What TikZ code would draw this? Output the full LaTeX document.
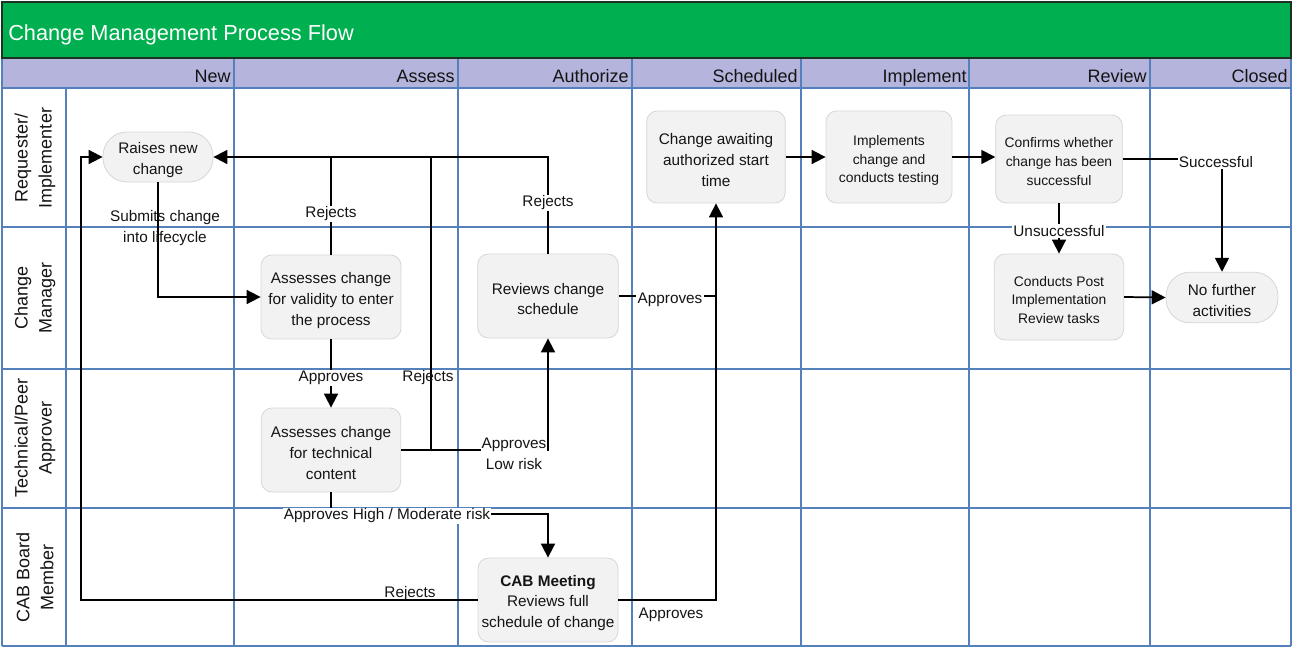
\documentclass[tikz,border=0pt]{standalone}
\usepackage{fontspec}
\setmainfont{Liberation Sans}
\usetikzlibrary{arrows.meta}
\definecolor{gridblue}{RGB}{84,128,188}
\definecolor{hdrfill}{RGB}{180,180,220}
\definecolor{titlegreen}{RGB}{0,176,80}
\definecolor{titleedge}{RGB}{30,50,35}
\definecolor{boxfill}{RGB}{242,242,242}
\definecolor{boxline}{RGB}{214,214,214}
\definecolor{ink}{RGB}{20,20,20}
\newcommand\fsNode{\fontsize{11.5}{15.6}\selectfont}
\newcommand\fsSmall{\fontsize{10.4}{14}\selectfont}
\newcommand\fsHdr{\fontsize{13.5}{18}\selectfont}
\newcommand\fsTitle{\fontsize{16.3}{20}\selectfont}
\begin{document}
\begin{tikzpicture}[x=0.75pt,y=-0.75pt,
  gridline/.style={draw=gridblue,line width=0.9pt},
  proc/.style={draw=boxline,fill=boxfill,rounded corners=8pt,inner sep=0pt,line width=0.6pt},
  stadium/.style={proc,rounded corners=18pt},
  btxt/.style={align=center,font=\fsNode,text=ink,inner sep=0pt},
  stxt/.style={btxt,font=\fsSmall},
  flow/.style={draw=black,line width=1.3pt,-{Triangle[length=10.5pt,width=10.5pt]}},
  link/.style={draw=black,line width=1.3pt},
  lbl/.style={font=\fsNode,text=ink,align=center,inner sep=1pt},
  wlbl/.style={lbl,fill=white},
  colhdr/.style={font=\fsHdr,text=ink,anchor=base east,inner sep=0pt},
  lanehdr/.style={font=\fsHdr,text=ink,align=center,rotate=90,inner sep=0pt}
]
\useasboundingbox (0,0) rectangle (1293,650);
% title bar
\fill[titlegreen] (2,2) rectangle (1291,58);
\draw[titleedge,line width=1.3pt] (2,2) rectangle (1291,58);
\node[font=\fsTitle,text=white,anchor=base west,inner sep=0pt] (title) at (8,40) {Change Management Process Flow};
% header row
\fill[hdrfill] (2,59) rectangle (1291,88);
% grid
\foreach \yy in {88,227,369,508,646} \draw[gridline] (2,\yy) -- (1291,\yy);
\foreach \xx in {2,234,458,632,801,969,1150,1291} \draw[gridline] (\xx,59) -- (\xx,646);
\draw[gridline] (66,88) -- (66,646);
% column headers
\node[colhdr] (hNew) at (231,82) {New};
\node[colhdr] (hAssess) at (455,82) {Assess};
\node[colhdr] (hAuth) at (629,82) {Authorize};
\node[colhdr] (hSched) at (798,82) {Scheduled};
\node[colhdr] (hImpl) at (967,82) {Implement};
\node[colhdr] (hRev) at (1147,82) {Review};
\node[colhdr] (hClosed) at (1288,82) {Closed};
% lane headers
\node[lanehdr] (l1) at (35,158) {Requester/\\Implementer};
\node[lanehdr] (l2) at (35,298) {Change\\Manager};
\node[lanehdr] (l3) at (35,438) {Technical/Peer\\Approver};
\node[lanehdr] (l4) at (35,577) {CAB Board\\Member};
% process boxes
\node[stadium,minimum width=82.5pt,minimum height=37.5pt] (raise) at (158,157) {};
\node[proc,minimum width=105pt,minimum height=63pt] (valid) at (331,297) {};
\node[proc,minimum width=105.5pt,minimum height=63pt] (sched) at (548,296) {};
\node[proc,minimum width=104pt,minimum height=69pt] (await) at (716,157) {};
\node[proc,minimum width=94.5pt,minimum height=69pt] (impl) at (889,157) {};
\node[proc,minimum width=95pt,minimum height=66pt] (conf) at (1059,159) {};
\node[proc,minimum width=97pt,minimum height=64.5pt] (pir) at (1059,297) {};
\node[stadium,minimum width=84pt,minimum height=38pt] (nof) at (1222,297.5) {};
\node[proc,minimum width=104.5pt,minimum height=63pt] (tech) at (331,450) {};
\node[proc,minimum width=105pt,minimum height=63pt] (cab) at (548,600) {};
% box texts
\node[btxt] (raiseT) at ([yshift=-2.25pt]raise.center) {Raises new\\change};
\node[btxt] (validT) at ([yshift=-2.5pt]valid.center) {Assesses change\\for validity to enter\\the process};
\node[btxt] (schedT) at ([yshift=-2.25pt]sched.center) {Reviews change\\schedule};
\node[btxt] (awaitT) at ([yshift=-2.25pt]await.center) {Change awaiting\\authorized start\\time};
\node[stxt] (implT) at ([yshift=-2.7pt]impl.center) {Implements\\change and\\conducts testing};
\node[stxt] (confT) at ([yshift=-1.8pt]conf.center) {Confirms whether\\change has been\\successful};
\node[stxt] (pirT) at ([yshift=-2.25pt]pir.center) {Conducts Post\\Implementation\\Review tasks};
\node[btxt] (nofT) at ([yshift=-2.25pt]nof.center) {No further\\activities};
\node[btxt] (techT) at ([yshift=-2.25pt]tech.center) {Assesses change\\for technical\\content};
\node[btxt] (cabT) at ([yshift=-2.25pt]cab.center) {\textbf{CAB Meeting}\\Reviews full\\schedule of change};
% helper coordinates
\coordinate (techj) at (431,450);
\coordinate (topj) at (431,157);
\coordinate (hmj) at (331,514);
\coordinate (leftj) at (81,600);
% connectors
\draw[flow] (raise.south) |- (valid.west);
\node[lbl] (lSubmit) at (165,228) {Submits change\\into lifecycle};
\draw[link] (valid.north) -- (valid.north |- raise.east);
\draw[flow] (sched.north) |- (raise.east);
\draw[link] (techj) -- (topj);
\node[wlbl] (lRej1) at (331,214) {Rejects};
\node[wlbl] (lRej2) at (548,203) {Rejects};
\draw[flow] (valid.south) -- (tech.north);
\node[wlbl] (lApp1) at (331,378) {Approves};
\node[lbl] (lRej3) at (428,378) {Rejects};
\draw[flow] (tech.east) -| (sched.south);
\node[wlbl,inner sep=0.5pt] (lLow) at (514,454) {Approves\\Low risk};
\draw[flow] (tech.south) -- (hmj) -| (cab.north);
\node[wlbl] (lHigh) at (387,516) {Approves High / Moderate risk};
\draw[flow] (cab.west) -- (leftj) |- (raise.west);
\node[lbl] (lRej4) at (410,594) {Rejects};
\draw[flow] (cab.east) -| (await.south);
\node[lbl] (lApp2) at (671,615) {Approves};
\draw[link] (sched.east) -- (await.south |- sched.east);
\node[wlbl] (lApp3) at (670,300) {Approves};
\draw[flow] (await.east) -- (impl.west |- await.east);
\draw[flow] (impl.east) -- (conf.west |- impl.east);
\draw[flow] (conf.east) -| (nof.north);
\node[wlbl] (lSucc) at (1216,162) {Successful};
\draw[flow] (conf.south) -- (pir.north);
\node[wlbl] (lUns) at (1059,231) {Unsuccessful};
\draw[flow] (pir.east) -- (nof.west);
\end{tikzpicture}
\end{document}
